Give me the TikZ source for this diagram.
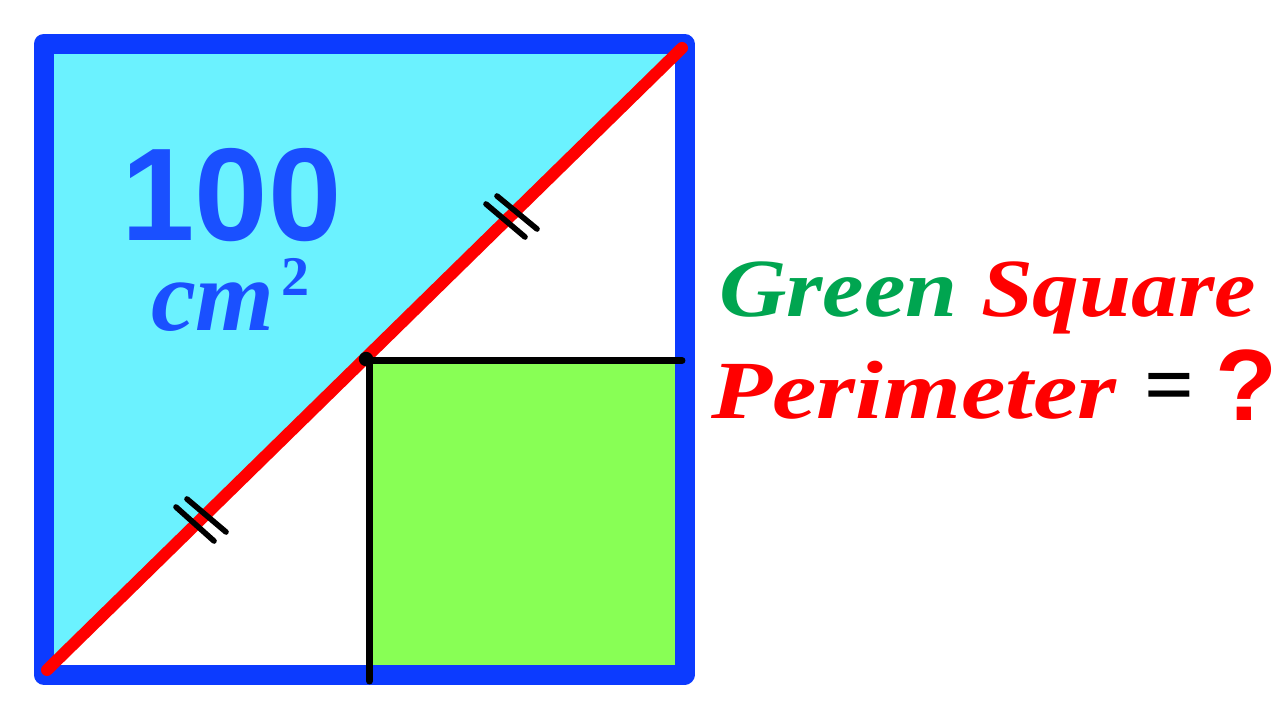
\documentclass[tikz,border=0pt]{standalone}
\usepackage{fontspec}
\setmainfont{Liberation Serif}
\newfontfamily\arialf{Liberation Sans}
\definecolor{borderblue}{HTML}{0C3BFF}
\definecolor{numblue}{HTML}{1A50FF}
\definecolor{cyanfill}{HTML}{6BF2FF}
\definecolor{greenfill}{HTML}{88FF55}
\definecolor{greentext}{HTML}{00A550}
\definecolor{redline}{HTML}{FF0000}
\tikzset{
  border/.style={draw=borderblue, line width=15pt, line join=round},
  diag/.style={draw=redline, line width=9pt, line cap=round},
  blackline/.style={draw=black, line width=5.2pt, line cap=round},
  tick/.style={draw=black, line width=4.2pt, line cap=round},
  txt/.style={inner sep=0pt, outer sep=0pt},
}
\begin{document}
\begin{tikzpicture}[x=0.75pt,y=-0.75pt]
\useasboundingbox[fill=white] (0,0) rectangle (1280,720);
% corners of the square (border centre line)
\coordinate (TL) at (43.5,44);
\coordinate (TR) at (684.5,44);
\coordinate (BR) at (684.5,674.5);
\coordinate (BL) at (43.5,674.5);
% diagonal ends
\coordinate (D1) at (47,670);
\coordinate (D2) at (682,48);
% green square corners
\coordinate (G1) at (369.5,360.5);
\coordinate (G2) at (684.5,674.5);
% fills
\fill[cyanfill] (TL) -- (TR) -- (D2) -- (D1) -- (BL) -- cycle;
\fill[greenfill] (G1) rectangle (G2);
% border
\draw[border] (TL) rectangle (BR);
% diagonal
\draw[diag] (D1) -- (D2);
% black lines
\coordinate (H2) at (682,360.5);
\coordinate (V2) at (369.5,681);
\coordinate (M) at (366,359);
\draw[blackline] (G1 -| M) -- (H2);
\draw[blackline] (G1) -- (V2);
\fill[black] (M) circle (5.4pt);
% tick marks
\coordinate (ua1) at (486,204); \coordinate (ua2) at (525,237);
\coordinate (ub1) at (497,196); \coordinate (ub2) at (537,229);
\coordinate (la1) at (176,507); \coordinate (la2) at (214,541);
\coordinate (lb1) at (187,499); \coordinate (lb2) at (226,532);
\draw[tick] (ua1) -- (ua2);
\draw[tick] (ub1) -- (ub2);
\draw[tick] (la1) -- (la2);
\draw[tick] (lb1) -- (lb2);
% texts
\node[txt, anchor=base, text=numblue, text depth=0pt, font=\arialf\bfseries\fontsize{99}{100}\selectfont] (num) at (231.5,240) {100};
\node[txt, anchor=base west, text=numblue, text height=36pt, text depth=0pt, font=\bfseries\itshape\fontsize{76}{80}\selectfont] (unit) at (151,330) {cm\hspace{5pt}\raisebox{26pt}[0pt][0pt]{\upshape\fontsize{42}{44}\selectfont 2}};
\node[txt, anchor=base west, font=\bfseries\itshape\fontsize{62}{64}\selectfont] (line1) at (719,316) {\scalebox{1.13}[1]{\textcolor{greentext}{Green} \textcolor{redline}{Square}}};
\node[txt, anchor=base west, text=redline, font=\bfseries\itshape\fontsize{62}{64}\selectfont] (perim) at (711,418) {\scalebox{1.21}[1]{Perimeter}};
\node[txt, anchor=base, text=black, font=\bfseries\fontsize{66}{68}\selectfont] (eq) at (1170,414) {=};
\node[txt, anchor=base west, text=redline, font=\arialf\bfseries\fontsize{76}{78}\selectfont] (qm) at (1215,420) {?};
\end{tikzpicture}
\end{document}
